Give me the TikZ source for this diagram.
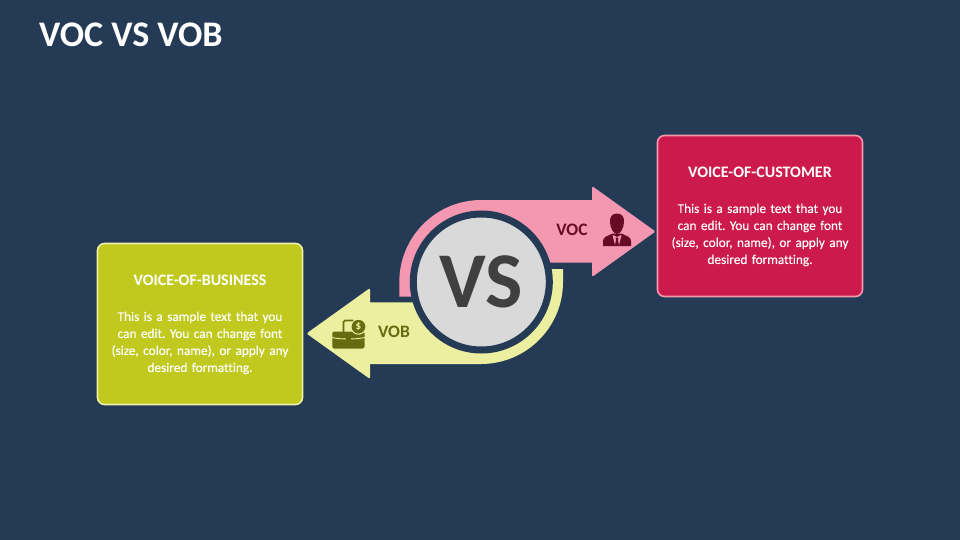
\documentclass[tikz,border=0pt]{standalone}
\usepackage{fontspec}
\usepackage{tikz}
\usetikzlibrary{positioning}
\setmainfont[Ligatures=NoCommon]{Carlito}
\newfontfamily\bodyfont[Ligatures=NoCommon,FakeBold=0.25]{Carlito}
\definecolor{navy}{HTML}{253B55}
\definecolor{rosered}{HTML}{CB1A4B}
\definecolor{rosepale}{HTML}{F497B1}
\definecolor{rosedark}{HTML}{660A26}
\definecolor{limegreen}{HTML}{C1C91F}
\definecolor{limepale}{HTML}{ECEFA0}
\definecolor{limedark}{HTML}{666B0F}
\definecolor{vsgray}{HTML}{D9D9D9}
\definecolor{vstext}{HTML}{404040}
\newcommand{\fsize}[1]{\fontsize{#1}{#1}\selectfont}

\begin{document}
\begin{tikzpicture}[x=1pt, y=-1pt, node distance=26pt,
    box/.style = {draw, line width=1.6pt, rounded corners=7pt, minimum width=205pt, minimum height=161pt},
    heading/.style = {text=white, font=\fsize{16}\bfseries, inner sep=0pt},
    body/.style = {text=white, font=\bodyfont\fontsize{13.3}{17}\selectfont\frenchspacing, align=center, inner sep=0pt, text width=200pt},
    tag/.style = {font=\fsize{17.5}\bfseries, inner sep=0pt}]
      \fill[navy] (0,0) rectangle (960,540);
      \useasboundingbox (0,0) rectangle (960,540);
      \node[anchor=west, text=white, font=\fsize{36}\bfseries, inner sep=0pt] (title) at (39,35) {VOC VS VOB};

      % arrows
      \fill[rosepale] (399.3,296.7) -- (399.3,282) arc[start angle=180, end angle=270, radius=82] -- (592,200) [rounded corners=1.5pt] -- (592,186) -- (655.5,231.5) -- (592,277) [sharp corners] -- (592,262.7) -- (481,262.7) -- (481,296.7) -- cycle;
      \fill[limepale] (563,269) -- (563,282) arc[start angle=0, end angle=90, radius=82] -- (370,364) [rounded corners=1.5pt] -- (370,379) -- (306.5,333.5) -- (370,288) [sharp corners] -- (370,302.3) -- (481,302.3) -- (481,269) -- cycle;

      \node[circle, draw=navy, fill=vsgray, line width=7pt, minimum size=136pt, inner sep=0pt] (vs) at (481.3,282) {};
      \node[text=vstext, font=\fsize{79}\bfseries, inner sep=0pt] (vsT) at (481.3,282) {VS};

      % boxes
      \node[box, fill=limegreen, draw=limepale] (vob) at (200,324) {};
      \node[box, fill=rosered, draw=rosepale] (voc) at (760,216) {};
      \node[heading] (vobH) at (200,280) {VOICE-OF-BUSINESS};
      \node[heading] (vocH) at (760,172) {VOICE-OF-CUSTOMER};
      \node[body] (vobB) [below=of vobH] {This is a sample text that you\\can edit. You can change font\\(size, color, name), or apply any\\desired formatting.};
      \node[body] (vocB) [below=of vocH] {This is a sample text that you\\can edit. You can change font\\(size, color, name), or apply any\\desired formatting.};

      \node[tag, text=rosedark] (vocL) at (572,230) {VOC};
      \node[tag, text=limedark] (vobL) at (394,332) {VOB};

      % person
      \fill[rosedark] (603,246) -- (603,241) .. controls (603,236.5) and (608,236) .. (612.5,233.5) -- (621.5,233.5) .. controls (626,236) and (631,236.5) .. (631,241) -- (631,246) -- cycle;
      \fill[rosedark] (617,213.5) .. controls (622,213.5) and (624.3,217) .. (624,222) .. controls (623.8,228) and (620.5,234) .. (617,234) .. controls (613.5,234) and (610.2,228) .. (610,222) .. controls (609.7,217) and (612,213.5) .. (617,213.5) -- cycle;
      \fill[rosepale] (612.5,235) -- (617,237) -- (621.5,235) -- (619,245) -- (615,245) -- cycle;
      \fill[rosedark] (615.6,237.5) -- (618.4,237.5) -- (618,240) -- (619,245.5) -- (615,245.5) -- (616,240) -- cycle;

      % briefcase
      \draw[limedark, line width=1.6pt, rounded corners=1.5pt] (343.5,332) -- (343.5,320.5) -- (354,320.5) -- (354,326);
      \fill[limedark, rounded corners=2pt] (332.3,331.5) rectangle (364.5,348.5);
      \draw[limepale, line width=0.9pt] (332,337.5) .. controls (340,339.5) and (356,339.5) .. (365,337.5);
      \fill[limedark] (345.5,336.5) rectangle (351,341);
      \node[circle, fill=limedark, draw=limepale, line width=1pt, minimum size=15pt, inner sep=0pt, text=limepale, font=\fsize{11}\bfseries] (coin) at (358.5,326.7) {\$};
\end{tikzpicture}
\end{document}
